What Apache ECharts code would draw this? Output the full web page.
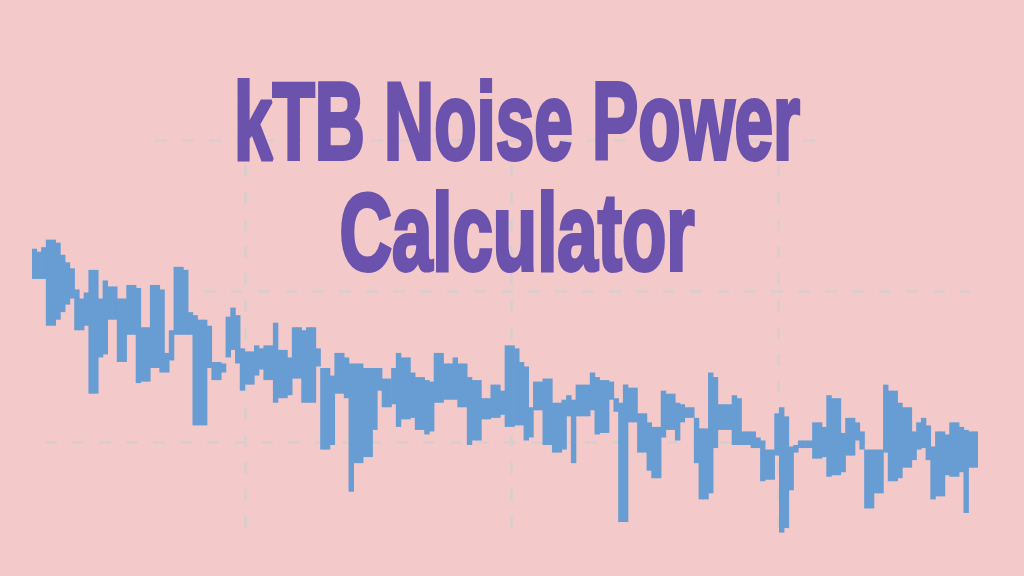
<!DOCTYPE html>
<html>
<head>
<meta charset="utf-8">
<script src="https://cdn.jsdelivr.net/npm/echarts@6/dist/echarts.min.js"></script>
<style>
html,body{margin:0;padding:0;background:#f3c9c9;}
#chart{width:1024px;height:576px;}
</style>
</head>
<body>
<div id="chart"></div>
<script>
// ---- data (relative noise power, dB) ----
const titleLines = ["kTB Noise Power", "Calculator"];

const highDb = [
  22.8, 22.6, 22.9, 23.4, 23.4, 23.2, 22.4, 21.9, 21.5, 20.1,
  19.5, 19.9, 21.4, 21.4, 19.5, 20.7, 20.3, 20.3, 19.5, 19.5,
  20.4, 20.4, 20.2, 17.6, 17.6, 20.4, 20.4, 20.1, 15.9, 17.4,
  21.6, 21.6, 21.4, 18.6, 18.4, 18.1, 18.1, 17.7, 15.3, 15.3,
  15.2, 18.3, 18.9, 18.4, 16.2, 16.0, 16.0, 16.4, 16.2, 16.4,
  16.4, 17.9, 16.1, 16.1, 15.6, 17.6, 17.6, 17.4, 17.6, 17.6,
  16.2, 14.9, 14.9, 14.4, 15.9, 15.9, 15.6, 15.2, 15.2, 15.2,
  14.9, 14.9, 14.9, 14.9, 14.2, 14.2, 14.9, 15.9, 15.6, 15.6,
  14.6, 14.3, 14.3, 14.1, 14.0, 15.9, 15.9, 15.2, 15.2, 15.6,
  15.2, 15.2, 14.3, 14.1, 14.1, 12.9, 12.9, 13.8, 13.8, 13.4,
  16.4, 16.4, 16.2, 15.3, 15.0, 12.3, 14.0, 14.0, 14.2, 14.2,
  12.6, 12.6, 12.8, 13.1, 12.8, 13.8, 13.8, 13.8, 14.6, 14.3,
  14.1, 14.1, 14.0, 12.9, 12.6, 13.8, 13.6, 13.6, 11.9, 11.9,
  11.3, 11.0, 11.0, 13.4, 13.2, 13.2, 12.6, 12.5, 12.3, 12.3,
  11.6, 10.9, 10.9, 14.6, 14.3, 12.5, 12.5, 12.5, 13.1, 12.9,
  10.7, 10.7, 10.7, 10.3, 10.1, 9.5, 9.5, 11.9, 12.3, 11.7,
  9.7, 9.8, 10.1, 10.1, 10.1, 11.3, 11.3, 11.0, 13.1, 12.9,
  12.9, 10.6, 11.6, 11.6, 11.3, 10.7, 9.5, 9.5, 9.5, 9.5,
  13.8, 13.4, 13.4, 12.6, 12.3, 12.3, 10.7, 11.3, 11.6, 11.1,
  9.7, 10.7, 10.7, 10.5, 11.3, 11.3, 11.0, 10.8, 10.7, 10.7
];

const lowDb = [
  20.8, 20.8, 20.8, 17.7, 17.7, 18.1, 18.6, 19.1, 19.5, 17.4,
  17.4, 17.7, 13.2, 13.2, 15.6, 15.8, 18.1, 18.1, 15.3, 15.3,
  17.1, 17.1, 13.9, 14.0, 14.0, 14.9, 14.9, 14.6, 14.6, 15.4,
  17.1, 17.1, 17.1, 17.1, 11.1, 11.1, 11.1, 14.9, 14.1, 14.1,
  14.6, 15.6, 16.1, 15.2, 13.4, 13.8, 13.8, 14.4, 14.8, 14.1,
  14.1, 12.6, 12.9, 12.9, 13.1, 14.2, 14.2, 12.6, 12.6, 12.6,
  15.0, 9.5, 9.5, 9.8, 13.2, 13.2, 12.9, 6.7, 8.6, 8.6,
  9.0, 9.0, 10.8, 13.4, 12.3, 12.3, 12.5, 11.0, 11.5, 11.5,
  11.6, 10.8, 10.8, 10.5, 10.7, 12.6, 12.6, 12.8, 12.8, 12.8,
  12.3, 12.3, 9.8, 10.1, 10.1, 11.5, 11.5, 11.6, 11.6, 11.8,
  11.0, 11.0, 11.1, 11.1, 10.1, 10.3, 12.1, 12.1, 9.8, 9.8,
  9.3, 9.3, 9.5, 11.7, 8.6, 11.7, 11.7, 11.7, 12.1, 10.5,
  10.6, 10.6, 12.8, 12.0, 4.7, 4.7, 11.3, 11.3, 9.3, 9.3,
  8.1, 7.6, 7.6, 10.3, 10.8, 10.8, 10.1, 11.3, 11.6, 11.6,
  8.6, 6.2, 6.2, 6.6, 9.6, 10.8, 10.8, 10.8, 9.8, 9.8,
  9.8, 9.8, 9.6, 9.6, 7.4, 7.5, 7.5, 9.1, 4.0, 4.3,
  6.8, 9.3, 9.6, 9.6, 9.6, 8.9, 8.9, 9.0, 7.7, 7.8,
  7.8, 8.0, 9.1, 9.1, 10.1, 9.5, 5.6, 5.6, 6.6, 6.6,
  9.3, 7.4, 7.4, 7.6, 8.3, 8.3, 8.8, 9.5, 9.6, 8.8,
  6.2, 6.4, 6.4, 7.8, 7.7, 7.7, 8.0, 5.3, 8.3, 8.3
];

const sampleLabels = highDb.map((_, i) => String(i + 1));
const gridLevels = [30, 20, 10];        // horizontal reference levels (dB)
const verticalTicks = [0, 1, 2];        // vertical reference divisions

// ---- chart ----
const chart = echarts.init(document.getElementById('chart'), null, {renderer: 'canvas', width: 1024, height: 576});

const gridLineStyle = {color: '#d9cdcd', width: 2.5, type: [12, 15]};
const hiddenBits = {axisLine: {show: false}, axisTick: {show: false}, axisLabel: {show: false}};

// one thin grid per horizontal reference line (each fades at a different extent)
const hExtents = [
  {left: 155, right: 194, y: 140},
  {left: 150, right: 54, y: 291},
  {left: 45, right: 49, y: 442}
];

const grids = [];
const xAxes = [];
const yAxes = [];

gridLevels.forEach((lvl, k) => {
  const e = hExtents[k];
  grids.push({left: e.left, right: e.right, top: e.y, height: 15.1, containLabel: false});
  xAxes.push(Object.assign({gridIndex: k, type: 'value', min: 0, max: 1, splitLine: {show: false}}, hiddenBits));
  yAxes.push(Object.assign({gridIndex: k, type: 'value', min: lvl - 1, max: lvl, interval: 1,
    splitLine: {show: true, showMinLine: false, showMaxLine: true, lineStyle: gridLineStyle}}, hiddenBits));
});

// vertical reference lines
grids.push({left: 245, width: 533, top: 165, bottom: 39});
xAxes.push(Object.assign({gridIndex: 3, type: 'value', min: verticalTicks[0], max: verticalTicks[verticalTicks.length - 1], interval: 1,
  splitLine: {show: true, lineStyle: gridLineStyle}}, hiddenBits));
yAxes.push(Object.assign({gridIndex: 3, type: 'value', min: 0, max: 1, splitLine: {show: false}}, hiddenBits));

// data grid
grids.push({left: 32, right: 46, top: 79.6, bottom: 13.2});
xAxes.push(Object.assign({gridIndex: 4, type: 'category', data: sampleLabels, boundaryGap: true, splitLine: {show: false}}, hiddenBits));
yAxes.push(Object.assign({gridIndex: 4, type: 'value', min: 2, max: 34, splitLine: {show: false}}, hiddenBits));

const spanDb = highDb.map((h, i) => +(h - lowDb[i]).toFixed(2));

const option = {
  backgroundColor: '#f3c9c9',
  animation: false,
  grid: grids,
  xAxis: xAxes,
  yAxis: yAxes,
  series: [
    {
      type: 'bar', xAxisIndex: 4, yAxisIndex: 4, stack: 'band',
      data: lowDb, barWidth: 5.4, silent: true,
      itemStyle: {color: 'rgba(0,0,0,0)'}
    },
    {
      type: 'bar', xAxisIndex: 4, yAxisIndex: 4, stack: 'band',
      data: spanDb, barWidth: 5.4,
      itemStyle: {color: '#679dd3'}
    }
  ],
  graphic: [
    {
      type: 'text', x: 517, y: 129, scaleX: 0.63, z: 100,
      style: {
        text: titleLines[0], x: 0, y: 0,
        font: 'bold 110px "Liberation Sans", Arial, sans-serif',
        fill: '#6a52ad', stroke: '#6a52ad', lineWidth: 4,
        textAlign: 'center', textVerticalAlign: 'middle'
      }
    },
    {
      type: 'text', x: 517, y: 240, scaleX: 0.66, z: 100,
      style: {
        text: titleLines[1], x: 0, y: 0,
        font: 'bold 110px "Liberation Sans", Arial, sans-serif',
        fill: '#6a52ad', stroke: '#6a52ad', lineWidth: 4,
        textAlign: 'center', textVerticalAlign: 'middle'
      }
    }
  ]
};
chart.setOption(option);
</script>
</body>
</html>
